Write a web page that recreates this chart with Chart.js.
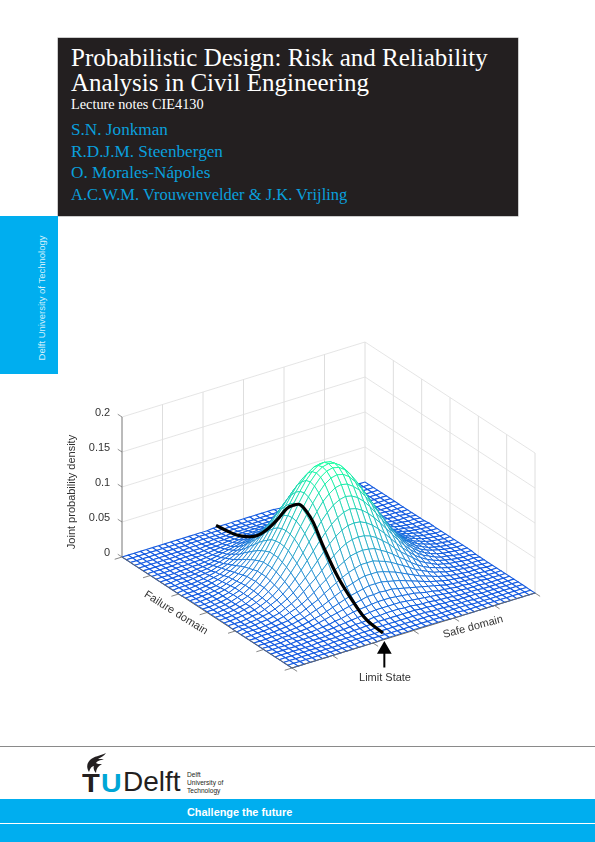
<!DOCTYPE html>
<html>
<head>
<meta charset="utf-8">
<title>Probabilistic Design</title>
<script src="https://cdn.jsdelivr.net/npm/chart.js@4"></script>
<style>
html, body { margin: 0; padding: 0; background: #fff; }
#page { position: relative; width: 595px; height: 842px; overflow: hidden; }
#page div { position: absolute; white-space: nowrap; }
#titleBox { left: 58px; top: 38px; width: 460px; height: 178px; background: #231f20; box-shadow: 0 0 0 0.5px #999; }
.title { left: 71px; color: #fff; font: 25px/25px "Liberation Serif", serif; }
.sub { left: 71px; color: #fff; font: 14.3px/14px "Liberation Serif", serif; }
.author { left: 71px; color: #0a9fdc; font: 17.2px/18px "Liberation Serif", serif; }
#sideTab { left: 0; top: 216px; width: 58px; height: 158px; background: #00aeef; }
#sideText { left: 41px; top: 298px; color: #d4f0fc; font: 9.5px "Liberation Sans", sans-serif; transform: translate(-50%, -50%) rotate(-90deg); }
#rule { left: 0; top: 746px; width: 595px; height: 1px; background: #8a8a8a; }
#band1 { left: 0; top: 799px; width: 595px; height: 24px; background: #00aeef; }
#band2 { left: 0; top: 824px; width: 595px; height: 18px; background: #00aeef; }
#slogan { left: 187px; top: 805px; color: #fff; font: bold 10.9px/14px "Liberation Sans", sans-serif; }
#logoT { left: 82px; top: 770px; color: #231f20; font: bold 26.5px/26px "Liberation Sans", sans-serif; transform-origin: left top; transform: scaleX(1.1); }
#logoU { left: 101px; top: 770px; color: #00a6d6; font: bold 26.5px/26px "Liberation Sans", sans-serif; transform-origin: left top; transform: scaleX(1.08); }
#logoDelft { left: 123px; top: 769px; color: #231f20; font: 28px/26px "Liberation Sans", sans-serif; }
.logoSmall { left: 187px; color: #231f20; font: 6.6px/8px "Liberation Sans", sans-serif; }
#flame { position: absolute; left: 85px; top: 753px; }
#chartCanvas { position: absolute; left: 60px; top: 330px; }
</style>
</head>
<body>
<div id="page">
  <div id="titleBox"></div>
  <div class="title" style="top:45px">Probabilistic Design: Risk and Reliability</div>
  <div class="title" style="top:70px">Analysis in Civil Engineering</div>
  <div class="sub" style="top:97px">Lecture notes CIE4130</div>
  <div class="author" style="top:121px">S.N. Jonkman</div>
  <div class="author" style="top:143px">R.D.J.M. Steenbergen</div>
  <div class="author" style="top:164px">O. Morales-Nápoles</div>
  <div class="author" style="top:186px;font-size:16.5px">A.C.W.M. Vrouwenvelder &amp; J.K. Vrijling</div>
  <div id="sideTab"></div>
  <div id="sideText">Delft University of Technology</div>
  <canvas id="chartCanvas" width="490" height="370"></canvas>
  <div id="rule"></div>
  <svg id="flame" width="24" height="22" viewBox="0 0 24 22">
    <path fill="#231f20" d="M21 0 C15 3 9 3 5 7 C2 10 1 14 4 19 C5 15 7 13 9 13 C8 15 9 18 11 20 C11 16 13 13 17 11 C14 11 12 11 11 10 C13 7 17 7 19 6 C16 6 14 6 13 6 C16 4 19 3 21 0 Z"/>
  </svg>
  <div id="logoT">T</div>
  <div id="logoU">U</div>
  <div id="logoDelft">Delft</div>
  <div class="logoSmall" style="top:771px">Delft</div>
  <div class="logoSmall" style="top:779px">University of</div>
  <div class="logoSmall" style="top:787px">Technology</div>
  <div id="band1"></div>
  <div id="band2"></div>
  <div id="slogan">Challenge the future</div>
</div>

<script>
// axis ticks
const zTicks = [0, 0.05, 0.1, 0.15, 0.2];
const zTickLabels = ['0', '0.05', '0.1', '0.15', '0.2'];
const floorTicks = [0, 1 / 6, 2 / 6, 3 / 6, 4 / 6, 5 / 6, 1];

// density read off the mesh in thousandths, one quarter of the hill
// (row = cells away from the peak along one floor axis, column = along the other)
const densityRows = [
    [159, 157, 151, 141, 128, 114, 98, 82, 67, 53, 41, 31, 23, 16, 11, 8, 5, 3, 2, 1, 1],
    [157, 155, 149, 139, 126, 112, 97, 81, 66, 53, 41, 31, 22, 16, 11, 8, 5, 3, 2, 1, 1],
    [151, 149, 143, 133, 121, 107, 93, 78, 64, 50, 39, 29, 22, 15, 11, 7, 5, 3, 2, 1, 1],
    [141, 139, 133, 125, 113, 100, 87, 73, 59, 47, 36, 27, 20, 14, 10, 7, 5, 3, 2, 1, 1],
    [128, 126, 121, 113, 103, 91, 79, 66, 54, 43, 33, 25, 18, 13, 9, 6, 4, 3, 2, 1, 1],
    [114, 112, 107, 100, 91, 81, 70, 59, 48, 38, 29, 22, 16, 12, 8, 5, 4, 2, 1, 1, 1],
    [98, 97, 93, 87, 79, 70, 60, 50, 41, 33, 25, 19, 14, 10, 7, 5, 3, 2, 1, 1, 0],
    [82, 81, 78, 73, 66, 59, 50, 42, 35, 28, 21, 16, 12, 8, 6, 4, 3, 2, 1, 1, 0],
    [67, 66, 64, 59, 54, 48, 41, 35, 28, 22, 17, 13, 10, 7, 5, 3, 2, 1, 1, 1, 0],
    [53, 53, 50, 47, 43, 38, 33, 28, 22, 18, 14, 10, 8, 5, 4, 3, 2, 1, 1, 0, 0],
    [41, 41, 39, 36, 33, 29, 25, 21, 17, 14, 11, 8, 6, 4, 3, 2, 1, 1, 1, 0, 0],
    [31, 31, 29, 27, 25, 22, 19, 16, 13, 10, 8, 6, 4, 3, 2, 1, 1, 1, 0, 0, 0],
    [23, 22, 22, 20, 18, 16, 14, 12, 10, 8, 6, 4, 3, 2, 2, 1, 1, 0, 0, 0, 0],
    [16, 16, 15, 14, 13, 12, 10, 8, 7, 5, 4, 3, 2, 2, 1, 1, 1, 0, 0, 0, 0],
    [11, 11, 11, 10, 9, 8, 7, 6, 5, 4, 3, 2, 2, 1, 1, 1, 0, 0, 0, 0, 0],
    [8, 8, 7, 7, 6, 5, 5, 4, 3, 3, 2, 1, 1, 1, 1, 0, 0, 0, 0, 0, 0],
    [5, 5, 5, 5, 4, 4, 3, 3, 2, 2, 1, 1, 1, 1, 0, 0, 0, 0, 0, 0, 0],
    [3, 3, 3, 3, 3, 2, 2, 2, 1, 1, 1, 1, 0, 0, 0, 0, 0, 0, 0, 0, 0],
    [2, 2, 2, 2, 2, 1, 1, 1, 1, 1, 1, 0, 0, 0, 0, 0, 0, 0, 0, 0, 0],
    [1, 1, 1, 1, 1, 1, 1, 1, 1, 0, 0, 0, 0, 0, 0, 0, 0, 0, 0, 0, 0],
    [1, 1, 1, 1, 1, 1, 0, 0, 0, 0, 0, 0, 0, 0, 0, 0, 0, 0, 0, 0, 0]
];

// the limit state curve
const limitU = 0.38;
const limitV = [0.01, 0.073, 0.132, 0.191, 0.249, 0.308, 0.367, 0.426, 0.465, 0.504, 0.544, 0.582, 0.641, 0.73, 0.816, 0.896, 0.992];
const limitZ = [0.006, 0.0084, 0.0116, 0.0186, 0.029, 0.047, 0.07, 0.096, 0.107, 0.114, 0.11, 0.101, 0.076, 0.045, 0.025, 0.0114, 0.008];

const cells = 40;

// floor corners on the page: left (122,557), back (365,482), front (292,668)
function project(u, v, z) {
    return {
        x: 122 + 243 * u + 170 * v,
        y: 557 - 75 * u + 111 * v - 700 * z
    };
}

function density(i, j) {
    return densityRows[Math.abs(i - 20)][Math.abs(j - 20)] / 1000;
}

function meshColor(z) {
    const t = z / 0.159;
    const r = Math.round(20 * (1 - t));
    const g = Math.round(90 + 165 * t);
    const b = Math.round(225 - 75 * t);
    return `rgb(${r},${g},${b})`;
}

function lineSet(points, color, width) {
    return {
        data: points,
        showLine: true,
        borderColor: color,
        borderWidth: width,
        pointRadius: 0,
        fill: false
    };
}

function buildDatasets() {
    const sets = [];

    // the first dataset ends up on top, so front things go first
    const limitLine = lineSet(limitV.map((v, n) => project(limitU, v, limitZ[n])), '#000', 3.2);
    limitLine.tension = 0.35;
    sets.push(limitLine);

    const tip = project(limitU, 1, 0);
    sets.push({
        data: [{ x: tip.x, y: tip.y + 28 }, { x: tip.x, y: tip.y + 10 }],
        showLine: true,
        borderColor: '#000',
        borderWidth: 2,
        backgroundColor: '#000',
        pointRadius: [0, 6.5],
        pointStyle: 'triangle',
        fill: false
    });

    // floor axes and their ticks
    const axisColor = '#666';
    sets.push(lineSet([project(0, 0, 0), project(0, 1, 0), project(1, 1, 0)], axisColor, 1));
    floorTicks.forEach(t => {
        sets.push(lineSet([project(0, t, 0), project(-0.03, t, 0)], axisColor, 0.8));
        sets.push(lineSet([project(t, 1, 0), project(t, 1.03, 0)], axisColor, 0.8));
    });

    // mesh cells, front to back, white filled so the hill hides what is behind it
    for (let i = 0; i < cells; i++) {
        for (let j = cells - 1; j >= 0; j--) {
            const corners = [[i, j], [i + 1, j], [i + 1, j + 1], [i, j + 1], [i, j]];
            const heights = corners.map(c => density(c[0], c[1]));
            const mean = (heights[0] + heights[1] + heights[2] + heights[3]) / 4;
            // thin lines up on the hill, heavier on the flat floor
            const width = Math.max(0.75, 1.05 - mean * 8);
            const set = lineSet(corners.map((c, n) => project(c[0] / cells, c[1] / cells, heights[n])), meshColor(mean), width);
            set.fill = 'shape';
            set.backgroundColor = '#fff';
            sets.push(set);
        }
    }

    // z axis
    sets.push(lineSet([project(0, 0, 0), project(0, 0, 0.2)], '#777', 1));
    zTicks.forEach(z => {
        sets.push(lineSet([project(0, 0, z), project(0, -0.025, z)], '#777', 0.8));
    });

    // walls
    const wallColor = '#dedede';
    zTicks.forEach(z => {
        sets.push(lineSet([project(0, 0, z), project(1, 0, z), project(1, 1, z)], wallColor, 0.8));
    });
    floorTicks.forEach(t => {
        if (t > 0) sets.push(lineSet([project(t, 0, 0), project(t, 0, 0.2)], wallColor, 1));
        if (t > 0) sets.push(lineSet([project(1, t, 0), project(1, t, 0.2)], wallColor, 1));
    });

    return sets;
}

const axisLabels = {
    id: 'axisLabels',
    afterDatasetsDraw(chart) {
        const ctx = chart.ctx;
        const sx = v => chart.scales.x.getPixelForValue(v);
        const sy = v => chart.scales.y.getPixelForValue(v);
        ctx.save();
        ctx.fillStyle = '#333';
        ctx.font = '11px "Liberation Sans", sans-serif';
        ctx.textBaseline = 'middle';

        ctx.textAlign = 'right';
        zTicks.forEach((z, n) => {
            const p = project(0, -0.04, z);
            ctx.fillText(zTickLabels[n], sx(p.x - 5), sy(p.y));
        });

        ctx.textAlign = 'center';
        const rotated = (text, x, y, angle) => {
            ctx.save();
            ctx.translate(sx(x), sy(y));
            ctx.rotate(angle * Math.PI / 180);
            ctx.fillText(text, 0, 0);
            ctx.restore();
        };
        rotated('Joint probability density', 72, 492, -90);
        rotated('Failure domain', 176, 613, 32);
        rotated('Safe domain', 473, 627, -15);
        rotated('Limit State', 385, 678, 0);
        ctx.restore();
    }
};

new Chart(document.getElementById('chartCanvas'), {
    type: 'scatter',
    data: { datasets: buildDatasets() },
    plugins: [axisLabels],
    options: {
        responsive: false,
        animation: false,
        events: [],
        layout: { padding: 0, autoPadding: false },
        scales: {
            x: { type: 'linear', min: 60, max: 550, display: false },
            y: { type: 'linear', min: 330, max: 700, reverse: true, display: false }
        },
        plugins: {
            legend: { display: false },
            tooltip: { enabled: false },
            title: { display: false }
        }
    }
});
</script>
</body>
</html>
